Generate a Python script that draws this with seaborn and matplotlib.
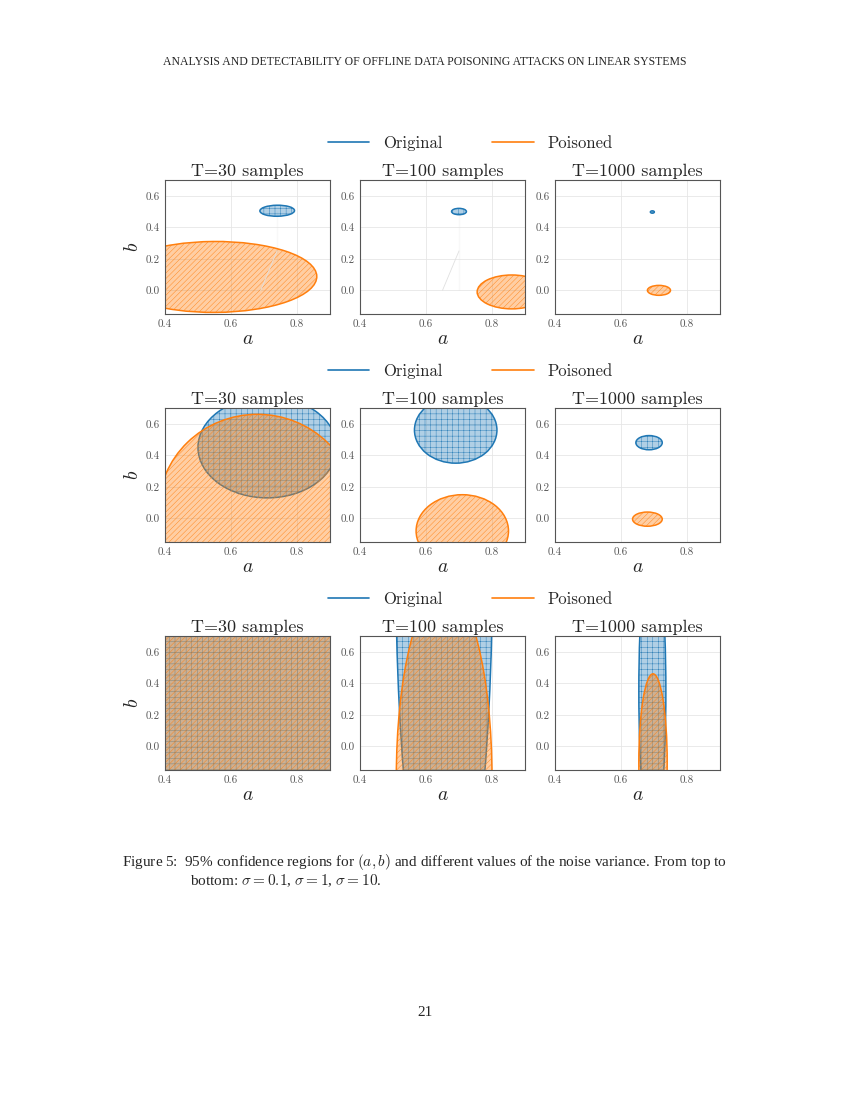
import numpy as np
import pandas as pd
import matplotlib
matplotlib.use("Agg")
import matplotlib.pyplot as plt
from matplotlib.patches import Ellipse
from matplotlib.lines import Line2D
import seaborn as sns

# Data: per row (sigma) and per column (T) ellipse parameters
sigmas = ["0.1", "1", "10"]
sample_sizes = [30, 100, 1000]
# original ellipses: center a, center b, width, height, angle (deg)
orig_a = [[0.74, 0.70, 0.695], [0.71, 0.69, 0.685], [0.70, 0.655, 0.695]]
orig_b = [[0.505, 0.50, 0.497], [0.45, 0.56, 0.48], [0.5, 1.2, 0.35]]
orig_w = [[0.105, 0.045, 0.012], [0.42, 0.25, 0.08], [6.0, 0.294, 0.082]]
orig_h = [[0.07, 0.04, 0.015], [0.64, 0.42, 0.09], [60.0, 5.0, 1.9]]
orig_ang = [[2, -2, 0], [0, 0, 0], [0, 0, 0]]
pois_a = [[0.55, 0.86, 0.715], [0.68, 0.71, 0.68], [0.70, 0.655, 0.697]]
pois_b = [[0.085, -0.01, 0.0], [0.05, -0.08, -0.005], [0.5, -0.2, -0.1]]
pois_w = [[0.62, 0.21, 0.07], [0.60, 0.28, 0.09], [6.0, 0.29, 0.086]]
pois_h = [[0.45, 0.215, 0.063], [1.22, 0.46, 0.09], [60.0, 2.4, 1.12]]
pois_ang = [[1, 0, 0], [0, 0, 0], [0, 0, 0]]
xticks = [0.4, 0.6, 0.8]
yticks = [0.0, 0.2, 0.4, 0.6]

sns.set_style("whitegrid")
plt.rcParams.update({
    "font.family": "cmr10",
    "mathtext.fontset": "cm",
    "axes.formatter.use_mathtext": True,
    "hatch.linewidth": 0.3,
})
BLUE, ORANGE = "#1f77b4", "#ff7f0e"

fig = plt.figure(figsize=(8.5, 11), dpi=100)
W, H = 850, 1100
col_x = [165, 360, 555]
row_y = [180, 408, 636]
aw, ah = 165, 134

for r in range(3):
    for c in range(3):
        ax = fig.add_axes([col_x[c] / W, 1 - (row_y[r] + ah) / H, aw / W, ah / H])
        ax.set_xlim(0.4, 0.9)
        ax.set_ylim(-0.15, 0.7)
        ax.set_xticks(xticks)
        ax.set_yticks(yticks)
        ax.set_xticklabels([f"{v:.1f}" for v in xticks])
        ax.set_yticklabels([f"{v:.1f}" for v in yticks])
        ax.grid(True, color="#e6e6e6", lw=0.6)
        for s in ax.spines.values():
            s.set_color("#555555"); s.set_linewidth(0.8)
        ax.tick_params(labelsize=8, colors="#555555", length=2, pad=2)
        if r == 0 and c < 2:
            oa, ob = orig_a[r][c], orig_b[r][c]
            conn = pd.DataFrame({"a": [oa, oa, oa - 0.05], "b": [ob, 0.0, 0.0]})
            sns.lineplot(data=conn, x="a", y="b", sort=False, color="#e0e0e0", lw=0.6, ax=ax)
        e1 = Ellipse((orig_a[r][c], orig_b[r][c]), orig_w[r][c], orig_h[r][c], angle=orig_ang[r][c],
                     facecolor=(0.12, 0.47, 0.71, 0.35), edgecolor=BLUE, lw=1.1, hatch="+++")
        e2 = Ellipse((pois_a[r][c], pois_b[r][c]), pois_w[r][c], pois_h[r][c], angle=pois_ang[r][c],
                     facecolor=(1.0, 0.5, 0.05, 0.38), edgecolor=ORANGE, lw=1.1, hatch="//////")
        ax.add_patch(e1); ax.add_patch(e2)
        ax.set_xlabel(r"$a$", fontsize=14, labelpad=1)
        if c == 0:
            ax.set_ylabel(r"$b$", fontsize=14, labelpad=2)
        else:
            ax.set_ylabel("")
        ax.set_title(f"T={sample_sizes[c]} samples", fontsize=13, pad=3)
    handles = [Line2D([], [], color=BLUE, lw=1.2), Line2D([], [], color=ORANGE, lw=1.2)]
    fig.legend(handles, ["Original", "Poisoned"], loc="center", ncol=2, frameon=False,
               fontsize=12, bbox_to_anchor=(470 / W, 1 - (row_y[r] - 37) / H),
               handlelength=2.5, columnspacing=3)

fig.text(0.5, 1 - 62 / H, "ANALYSIS AND DETECTABILITY OF OFFLINE DATA POISONING ATTACKS ON LINEAR SYSTEMS",
         ha="center", va="center", fontsize=8.5, family="Liberation Serif")
fig.text(122 / W, 1 - 862 / H,
         r"Figure 5:  95% confidence regions for $(a, b)$ and different values of the noise variance. From top to",
         ha="left", va="center", fontsize=11, family="Liberation Serif")
fig.text(190 / W, 1 - 881 / H,
         r"bottom: $\sigma = 0.1$, $\sigma = 1$, $\sigma = 10$.",
         ha="left", va="center", fontsize=11, family="Liberation Serif")
fig.text(0.5, 1 - 1013 / H, "21", ha="center", va="center", fontsize=11, family="Liberation Serif")

fig.savefig("out.png", dpi=100)
